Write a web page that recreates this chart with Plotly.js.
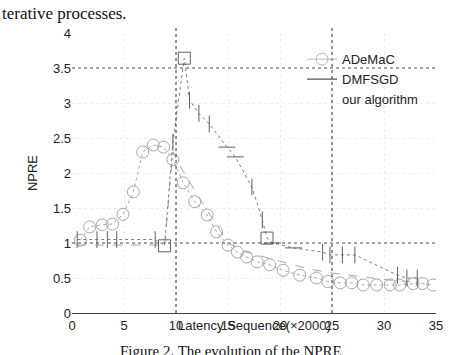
<!DOCTYPE html>
<html><head><meta charset="utf-8">
<script src="https://cdn.plot.ly/plotly-3.0.1.min.js"></script>
<style>html,body{margin:0;padding:0;background:#fff}#c{width:474px;height:355px}</style>
</head><body><div id="c"></div>
<script>
// ADeMaC series (open circles)
const ademacX = [0.8,1.7,2.9,3.9,4.9,5.9,6.8,7.8,8.8,9.7,10.7,11.8,13,13.9,15,15.9,16.8,17.8,19,20.3,21.9,23.5,24.6,25.8,26.9,28,29.3,30.6,31.5,32.8,33.7,34.7];
const ademacY = [1.04,1.23,1.26,1.27,1.41,1.73,2.3,2.4,2.37,2.19,1.86,1.59,1.4,1.16,0.97,0.87,0.8,0.73,0.69,0.61,0.54,0.5,0.45,0.43,0.43,0.4,0.4,0.4,0.4,0.42,0.42,0.4];
// DMFSGD series
const dmfX = [0.5,2.4,3.4,4.3,8.0,8.9,9.7,10.8,11.3,12.2,13.2,14.9,15.7,17.3,18.3,18.75,19.3,21.3,24.1,24.8,26,27.2,31.3,32.2,33.2];
const dmfY = [1.05,1.05,1.05,1.05,1.05,0.96,2.44,3.64,3.04,2.85,2.7,2.37,2.23,1.8,1.33,1.07,1.0,0.93,0.87,0.83,0.83,0.83,0.54,0.5,0.5];
// our algorithm series
const oursX = [0.5,4,8,8.9,9.7,10.4,12,13.5,15,16.5,18.5,20.5,22.5,24.5,26.5,28.5,30.5,32.5];
const oursY = [0.97,0.97,0.97,0.95,2.3,2.1,1.7,1.35,1.0,0.88,0.8,0.72,0.64,0.58,0.54,0.5,0.47,0.45];
const xTicks = [0,5,10,15,20,25,30,35];
const yTicks = [0,0.5,1,1.5,2,2.5,3,3.5,4];
const refX = [10,25];
const refY = [1,3.5];
const names = ["ADeMaC","DMFSGD","our algorithm"];

const dmfSymbols = dmfX.map((x,i)=>{
  if ([5,7,15].includes(i)) return 'square-open';
  if ([11,12,16,17].includes(i)) return 'line-ew';
  return 'line-ns';
});

const traces = [
  {x: oursX, y: oursY, mode:'lines', line:{color:'#a8a8a8', width:1, dash:'dash'}, showlegend:false, hoverinfo:'skip'},
  {x: ademacX, y: ademacY, mode:'lines+markers', line:{color:'#a8a8a8', width:1, dash:'dot'},
   marker:{symbol:'circle-open', size:12, line:{color:'#b0b0b0', width:1}}, showlegend:false},
  {x: dmfX, y: dmfY, mode:'lines+markers', line:{color:'#808080', width:1, dash:'dot'},
   marker:{symbol:dmfSymbols, size:12, color:'#606060', line:{color:'#606060', width:1}}, showlegend:false},
  // legend entries
  {x:[null], y:[null], name:names[0], mode:'lines+markers', line:{color:'#b8b8b8', width:1}, marker:{symbol:'circle-open', size:12, line:{color:'#aaa', width:1}}},
  {x:[null], y:[null], name:names[1], mode:'lines', line:{color:'#555', width:1.2}},
  {x:[null], y:[null], name:names[2], mode:'lines', line:{color:'rgba(255,255,255,0)', width:1}}
];

const shapes = [];
refX.forEach(v=>shapes.push({type:'line', xref:'x', yref:'paper', x0:v, x1:v, y0:0, y1:1.02, line:{color:'#555', width:1.2, dash:'3px,3px'}}));
refY.forEach(v=>shapes.push({type:'line', xref:'paper', yref:'y', x0:0, x1:1, y0:v, y1:v, line:{color:'#555', width:1.2, dash:'3px,3px'}}));

const layout = {
  width:474, height:355,
  margin:{l:72, r:38, t:33, b:42},
  paper_bgcolor:'#fff', plot_bgcolor:'#fff',
  font:{family:'Liberation Sans, Arial, sans-serif', size:13, color:'#222'},
  xaxis:{range:[0,35], tickvals:xTicks, showgrid:true, gridcolor:'#eeeeee', griddash:'dot', zeroline:false,
         showline:true, linecolor:'#444', linewidth:1, ticks:'', tickfont:{size:13}},
  yaxis:{range:[0,4], tickvals:yTicks, showgrid:true, gridcolor:'#eeeeee', griddash:'dot', zeroline:false,
         showline:false, ticks:'', tickfont:{size:13}, title:{text:'NPRE', font:{size:13}, standoff:12}},
  showlegend:true,
  legend:{x:0.632, y:0.96, xanchor:'left', yanchor:'top', bgcolor:'rgba(0,0,0,0)', font:{size:13}, itemwidth:30},
  shapes: shapes,
  annotations:[
    {text:'Latency Sequence(×2000)', xref:'paper', yref:'paper', x:0.5, y:-0.046, xanchor:'center', yanchor:'middle', showarrow:false, font:{size:13}},
    {text:'terative processes.', xref:'paper', yref:'paper', x:-0.1978, y:1.068, xanchor:'left', yanchor:'middle', showarrow:false, font:{family:'Liberation Serif, Times New Roman, serif', size:17, color:'#111'}},
    {text:'Figure 2. The evolution of the NPRE', xref:'paper', yref:'paper', x:0.437, y:-0.1, xanchor:'center', yanchor:'top', showarrow:false, font:{family:'Liberation Serif, Times New Roman, serif', size:15, color:'#111'}}
  ]
};
Plotly.newPlot('c', traces, layout, {displayModeBar:false, staticPlot:true});
</script></body></html>
